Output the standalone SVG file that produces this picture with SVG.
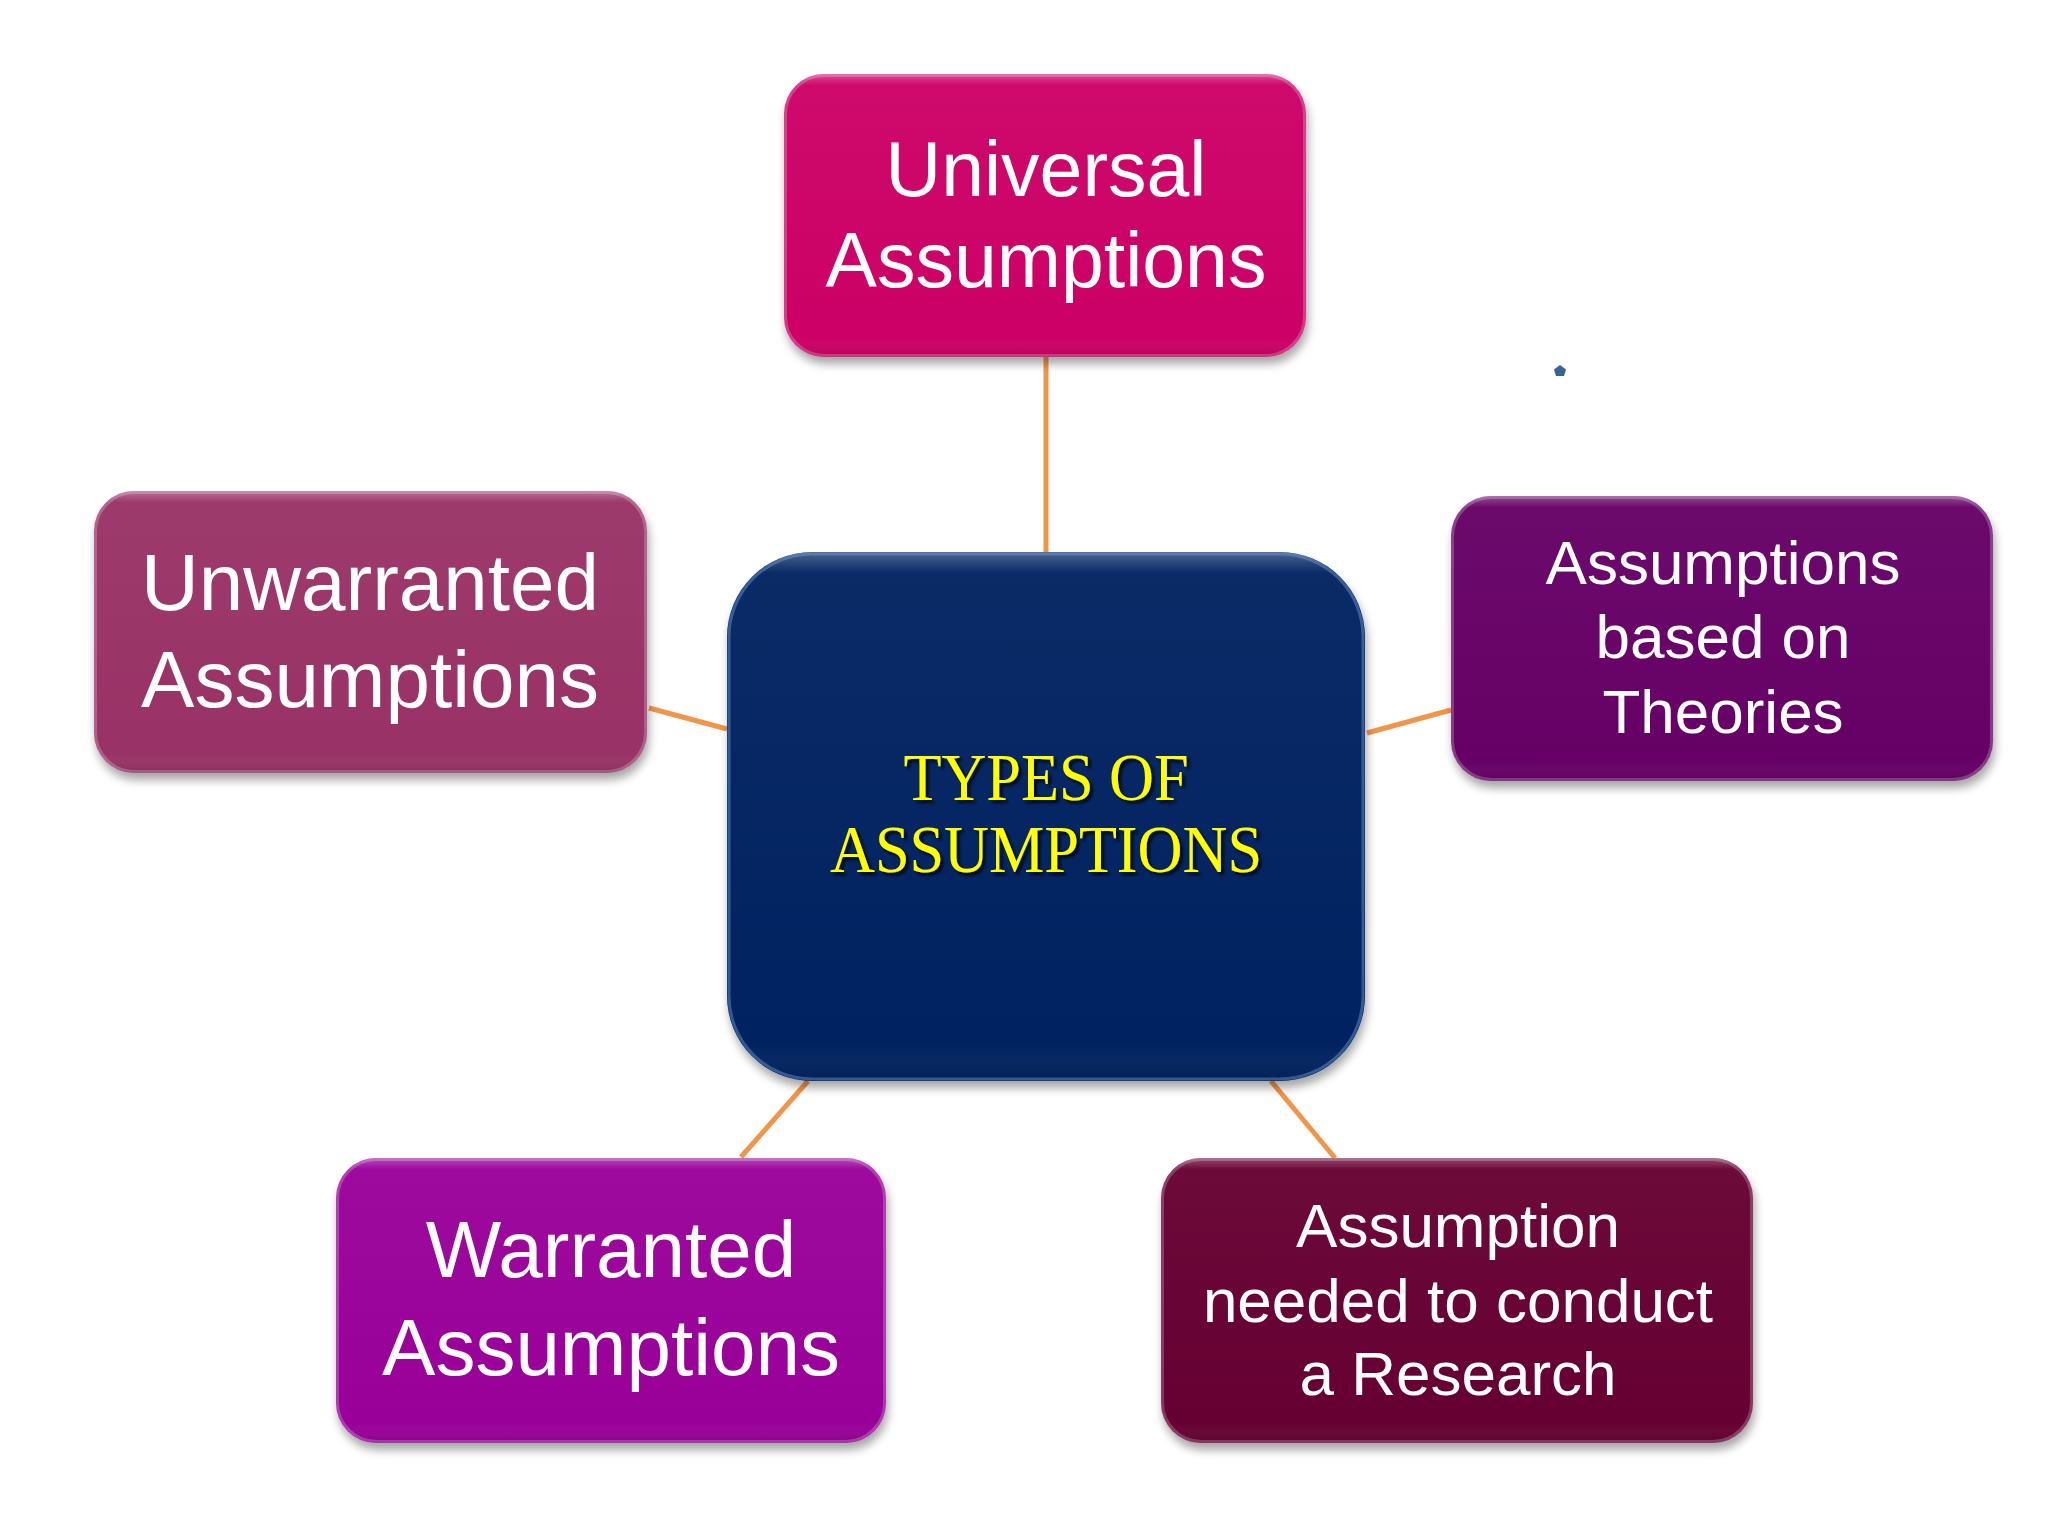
<svg xmlns="http://www.w3.org/2000/svg" width="2048" height="1536" viewBox="0 0 2048 1536">
<defs>
<style>
.lbl{font-family:"Liberation Sans","Arial",sans-serif;fill:#ffffff;text-anchor:middle}
.big{font-size:80px}
.mid{font-size:62px}
.ctr{font-family:"Liberation Serif","Times New Roman",serif;fill:#ffff00;text-anchor:middle;font-size:68px}
.conn{stroke:#f0954a;stroke-width:5;fill:none}
.gloss{fill:url(#gl)}
.rim{fill:none;stroke:#ffffff;stroke-opacity:0.22;stroke-width:3}
</style>
<linearGradient id="gl" x1="0" y1="0" x2="0" y2="1">
<stop offset="0" stop-color="#ffffff" stop-opacity="0.3"/>
<stop offset="0.04" stop-color="#ffffff" stop-opacity="0.04"/>
<stop offset="0.93" stop-color="#ffffff" stop-opacity="0"/>
<stop offset="1" stop-color="#000000" stop-opacity="0.12"/>
</linearGradient>
<filter id="sh" x="-10%" y="-10%" width="120%" height="125%">
<feGaussianBlur in="SourceAlpha" stdDeviation="5"/>
<feOffset dx="2" dy="7" result="b"/>
<feComponentTransfer><feFuncA type="linear" slope="0.35"/></feComponentTransfer>
<feMerge><feMergeNode/><feMergeNode in="SourceGraphic"/></feMerge>
</filter>
<filter id="tsh" x="-10%" y="-20%" width="120%" height="140%">
<feGaussianBlur in="SourceAlpha" stdDeviation="1.5"/>
<feOffset dx="3" dy="3"/>
<feComponentTransfer><feFuncA type="linear" slope="0.8"/></feComponentTransfer>
<feMerge><feMergeNode/><feMergeNode in="SourceGraphic"/></feMerge>
</filter>
</defs>
<rect width="2048" height="1536" fill="#ffffff"/>

<g id="connectors">
<line class="conn" x1="1046" y1="357" x2="1046" y2="552"/>
<line class="conn" x1="649" y1="708" x2="727" y2="729"/>
<line class="conn" x1="1367" y1="733" x2="1451" y2="710"/>
<line class="conn" x1="741" y1="1157" x2="808" y2="1081"/>
<line class="conn" x1="1271" y1="1081" x2="1335" y2="1158"/>
</g>

<g id="center">
<rect x="727" y="552" width="638" height="529" rx="85" fill="#002060" filter="url(#sh)"/>
<rect x="727" y="552" width="638" height="529" rx="85" class="gloss"/>
<rect x="729" y="554" width="634" height="525" rx="83" fill="none" stroke="#6f9fd8" stroke-opacity="0.45" stroke-width="3"/>
<g filter="url(#tsh)">
<text class="ctr" x="1046" y="800" textLength="285" lengthAdjust="spacingAndGlyphs">TYPES OF</text>
<text class="ctr" x="1046" y="872" textLength="432" lengthAdjust="spacingAndGlyphs">ASSUMPTIONS</text>
</g>
</g>

<g id="universal">
<rect x="784" y="74" width="522" height="283" rx="40" fill="#cc0066" filter="url(#sh)"/>
<rect x="784" y="74" width="522" height="283" rx="40" class="gloss"/>
<rect x="785.5" y="75.5" width="519" height="280" rx="39" class="rim"/>
<text class="lbl" x="1046" y="196" style="font-size:77px">Universal</text>
<text class="lbl" x="1046" y="287" style="font-size:77px">Assumptions</text>
</g>

<g id="unwarranted">
<rect x="94" y="491" width="553" height="282" rx="40" fill="#993366" filter="url(#sh)"/>
<rect x="94" y="491" width="553" height="282" rx="40" class="gloss"/>
<rect x="95.5" y="492.5" width="550" height="279" rx="39" class="rim"/>
<text class="lbl big" x="370" y="610">Unwarranted</text>
<text class="lbl big" x="370" y="707">Assumptions</text>
</g>

<g id="theories">
<rect x="1451" y="496" width="542" height="285" rx="40" fill="#660066" filter="url(#sh)"/>
<rect x="1451" y="496" width="542" height="285" rx="40" class="gloss"/>
<rect x="1452.5" y="497.5" width="539" height="282" rx="39" class="rim"/>
<text class="lbl mid" x="1723" y="584">Assumptions</text>
<text class="lbl mid" x="1723" y="658">based on</text>
<text class="lbl mid" x="1723" y="733">Theories</text>
</g>

<g id="warranted">
<rect x="336" y="1158" width="550" height="285" rx="40" fill="#990099" filter="url(#sh)"/>
<rect x="336" y="1158" width="550" height="285" rx="40" class="gloss"/>
<rect x="337.5" y="1159.5" width="547" height="282" rx="39" class="rim"/>
<text class="lbl big" x="611" y="1277">Warranted</text>
<text class="lbl big" x="611" y="1375">Assumptions</text>
</g>

<g id="research">
<rect x="1161" y="1158" width="592" height="285" rx="40" fill="#660033" filter="url(#sh)"/>
<rect x="1161" y="1158" width="592" height="285" rx="40" class="gloss"/>
<rect x="1162.5" y="1159.5" width="589" height="282" rx="39" class="rim"/>
<text class="lbl mid" x="1458" y="1247">Assumption</text>
<text class="lbl mid" x="1458" y="1322">needed to conduct</text>
<text class="lbl mid" x="1458" y="1395">a Research</text>
</g>

<polygon id="dot" points="1560,365 1566,369.5 1564,376 1556,376 1554,369.5" fill="#3a6496"/>
</svg>
